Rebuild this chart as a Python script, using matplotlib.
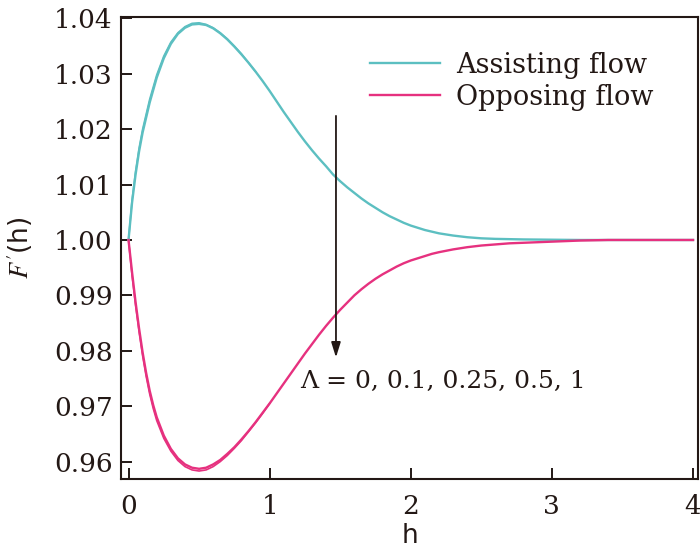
import matplotlib
matplotlib.use("Agg")
import matplotlib.pyplot as plt

# F'(h) (two slightly separated traces per flow)
h_assist = [0.0, 0.025, 0.05, 0.075, 0.10, 0.15, 0.20, 0.25, 0.30, 0.35, 0.40, 0.45,
            0.50, 0.55, 0.60, 0.65, 0.70, 0.75, 0.80, 0.85, 0.90, 0.95, 1.00, 1.05,
            1.10, 1.15, 1.20, 1.25, 1.30, 1.35, 1.40, 1.45, 1.50, 1.55, 1.60, 1.65,
            1.70, 1.75, 1.80, 1.85, 1.90, 1.95, 2.00, 2.05, 2.10, 2.15, 2.20, 2.30,
            2.40, 2.50, 2.60, 2.80, 3.00, 3.20, 4.00]
f_assist = [1.0000, 1.0067, 1.0118, 1.0160, 1.0194, 1.0248, 1.0293, 1.0328, 1.0354,
            1.0372, 1.0383, 1.0389, 1.0390, 1.0388, 1.0382, 1.0373, 1.0362, 1.0349,
            1.0335, 1.0320, 1.0304, 1.0287, 1.0269, 1.0250, 1.0231, 1.0213, 1.0195,
            1.0178, 1.0162, 1.0147, 1.0133, 1.0118, 1.0106, 1.0095, 1.0085, 1.0075,
            1.0066, 1.0058, 1.0050, 1.0043, 1.0037, 1.0031, 1.0026, 1.0022, 1.0018,
            1.0015, 1.0012, 1.0008, 1.0005, 1.0003, 1.0002, 1.0001, 1.00005, 1.0000,
            1.0000]

h_assist2 = [0.0, 0.025, 0.05, 0.075, 0.10, 0.15, 0.20, 0.25, 0.30, 0.35, 0.40, 0.45,
             0.50, 0.55, 0.60, 0.65, 0.70, 0.75, 0.80, 0.85, 0.90]
f_assist2 = [1.0000, 1.0072, 1.0124, 1.0166, 1.0200, 1.0254, 1.0298, 1.0332, 1.0357,
             1.0374, 1.0385, 1.0391, 1.0392, 1.0389, 1.0383, 1.0374, 1.0363, 1.0350,
             1.0336, 1.0320, 1.0304]

h_oppose = [0.0, 0.025, 0.05, 0.075, 0.10, 0.125, 0.15, 0.175, 0.20, 0.25, 0.30, 0.35,
            0.40, 0.45, 0.50, 0.55, 0.60, 0.65, 0.70, 0.75, 0.80, 0.85, 0.90, 0.95,
            1.00, 1.05, 1.10, 1.15, 1.20, 1.25, 1.30, 1.35, 1.40, 1.45, 1.50, 1.55,
            1.60, 1.65, 1.70, 1.75, 1.80, 1.85, 1.90, 1.95, 2.00, 2.05, 2.10, 2.15,
            2.20, 2.30, 2.40, 2.50, 2.60, 2.70, 2.80, 2.90, 3.00, 3.10, 3.20, 3.40, 4.00]
f_oppose = [1.0000, 0.9942, 0.9888, 0.9840, 0.9797, 0.9760, 0.9728, 0.9702, 0.9680,
            0.9647, 0.9623, 0.9606, 0.9595, 0.9589, 0.9587, 0.9589, 0.9595, 0.9603,
            0.9614, 0.9626, 0.9640, 0.9655, 0.9671, 0.9688, 0.9705, 0.9723, 0.9741,
            0.9759, 0.9777, 0.9795, 0.9812, 0.9829, 0.9845, 0.9860, 0.9874, 0.9887,
            0.9900, 0.9911, 0.9921, 0.9930, 0.9938, 0.9945, 0.9952, 0.9958, 0.9963,
            0.9967, 0.9971, 0.9975, 0.9978, 0.9983, 0.9987, 0.9990, 0.9992, 0.9994,
            0.9995, 0.9996, 0.9997, 0.9998, 0.9999, 1.0000, 1.0000]

h_oppose2 = [0.0, 0.025, 0.05, 0.075, 0.10, 0.125, 0.15, 0.175, 0.20, 0.25, 0.30, 0.35,
             0.40, 0.45, 0.50, 0.55, 0.60, 0.65, 0.70, 0.75, 0.80, 0.85, 0.90, 0.95,
             1.00]
f_oppose2 = [1.0000, 0.9936, 0.9882, 0.9834, 0.9791, 0.9754, 0.9722, 0.9696, 0.9674,
             0.9642, 0.9619, 0.9602, 0.9591, 0.9585, 0.9583, 0.9585, 0.9591, 0.9600,
             0.9611, 0.9624, 0.9638, 0.9654, 0.9670, 0.9687, 0.9705]

x_ticks = [0, 1, 2, 3, 4]
y_ticks = [0.96, 0.97, 0.98, 0.99, 1.00, 1.01, 1.02, 1.03, 1.04]

teal = "#5cbfc1"
pink = "#e6317f"
ink = "#231815"

plt.rcParams["mathtext.fontset"] = "stix"
serif = "DejaVu Serif"

fig = plt.figure(figsize=(7.0, 5.53), dpi=100)
ax = fig.add_axes([0.1729, 0.1338, 0.8242, 0.8355])

ax.plot(h_assist2, f_assist2, color=teal, lw=1.2)
ax.plot(h_oppose2, f_oppose2, color=pink, lw=1.2)
ax.plot(h_assist, f_assist, color=teal, lw=1.7, label="Assisting flow")
ax.plot(h_oppose, f_oppose, color=pink, lw=1.7, label="Opposing flow")

ax.set_xlim(-0.053, 4.035)
ax.set_ylim(0.95686, 1.04025)
ax.set_xticks(x_ticks)
ax.set_xticklabels([str(t) for t in x_ticks])
ax.set_yticks(y_ticks)
ax.set_yticklabels([f"{t:.2f}" for t in y_ticks])

for s in ax.spines.values():
    s.set_linewidth(1.5)
    s.set_color(ink)
ax.tick_params(direction="in", length=8, width=1.4, color=ink, labelcolor=ink,
               labelsize=19)
ax.tick_params(axis="x", pad=11)
ax.tick_params(axis="y", pad=6)
for lab in ax.get_xticklabels() + ax.get_yticklabels():
    lab.set_family(serif)

ax.set_xlabel("h", fontsize=19, color=ink, labelpad=3, family="DejaVu Sans")
ax.set_ylabel(r"$F'$(h)", fontsize=19, color=ink, labelpad=14, family="DejaVu Sans")

leg = ax.legend(loc="upper right", bbox_to_anchor=(0.966, 0.978), frameon=False,
                handlelength=2.6, handletextpad=0.6, labelspacing=0.2,
                prop={"family": serif, "size": 19.5})
for t in leg.get_texts():
    t.set_color(ink)

ax.annotate("", xy=(1.47, 0.9783), xytext=(1.47, 1.0229),
            arrowprops=dict(arrowstyle="-|>,head_length=0.9,head_width=0.28",
                            color=ink, lw=1.3))
ax.text(1.216, 0.9744, "Λ = 0, 0.1, 0.25, 0.5, 1", fontsize=18, family=serif,
        color=ink, va="center", ha="left")

fig.savefig("out.png", dpi=100)
